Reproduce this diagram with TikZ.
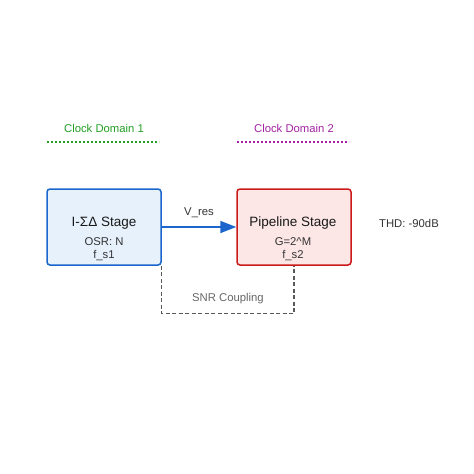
\documentclass[tikz,border=0pt]{standalone}
\usepackage{fontspec}
\setmainfont{Liberation Sans}
\usetikzlibrary{arrows.meta,positioning}
\definecolor{sdblue}{HTML}{1A66CC}
\definecolor{sdfill}{HTML}{E6F1FC}
\definecolor{pipered}{HTML}{CC1A1A}
\definecolor{pipefill}{HTML}{FDE6E6}
\definecolor{clkgreen}{HTML}{22A022}
\definecolor{clkpurple}{HTML}{A322A3}
\tikzset{
  stagebox/.style={draw, rounded corners=3pt, line width=1.5pt, minimum width=114pt, minimum height=76pt, inner sep=0pt},
  title/.style={font=\fontsize{13.5pt}{15pt}\selectfont, text=black!90, inner sep=0pt},
  sub/.style={font=\fontsize{11.3pt}{13pt}\selectfont, text=black!80, inner sep=0pt},
  clk/.style={font=\fontsize{11.3pt}{13pt}\selectfont, inner sep=0pt}
}
\begin{document}
\begin{tikzpicture}[x=1pt,y=-1pt]
    \useasboundingbox (0,0) rectangle (474,474);

    % Clock domains
    \node[clk, text=clkgreen] (clk1) at (104,128) {Clock Domain 1};
    \draw[clkgreen, dash pattern=on 2pt off 2pt, line width=1.3pt] (47,142) -- (159,142);
    \node[clk, text=clkpurple] (clk2) at (294,128) {Clock Domain 2};
    \draw[clkpurple, dash pattern=on 2pt off 2pt, line width=1.3pt] (237,142) -- (349,142);

    % Stages
    \node[stagebox, draw=sdblue, fill=sdfill] (isd) at (104,227) {};
    \node[title] (isdname) at (104,223) {I-ΣΔ Stage};
    \node[sub] (osr) at (104,242) {OSR: N};
    \node[sub] (fs1) at (104,256) {f\_s1};

    \node[stagebox, draw=pipered, fill=pipefill] (pipe) at (294,227) {};
    \node[title] (pipename) at (293,223) {Pipeline Stage};
    \node[sub] (gain) at (293,242) {G=2\^{}M};
    \node[sub] (fs2) at (293,256) {f\_s2};

    \node[sub] (thd) at (409,223) {THD: -90dB};

    % Residue path
    \draw[sdblue, line width=1.7pt, -{Triangle[length=16pt,width=12pt]}] (isd.east |- 0,227) -- (pipe.west |- 0,227)
        node[midway, above=8pt, sub, text=black!80] (vres) {V\_res};

    % Coupling loop
    \draw[black!65, dash pattern=on 4pt off 2.5pt, line width=1.2pt] (isd.south east) -- ++(0,48) -| (pipe.south);
    \node[sub, text=black!60] (snr) at (228,299) {SNR Coupling};
\end{tikzpicture}
\end{document}
